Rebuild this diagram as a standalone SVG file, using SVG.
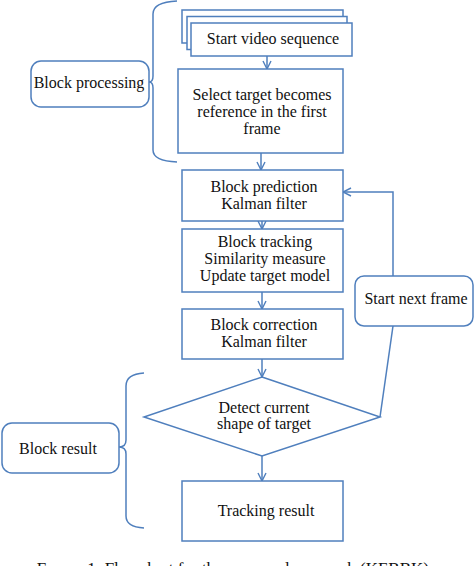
<svg xmlns="http://www.w3.org/2000/svg" width="474" height="566" viewBox="0 0 474 566">
<defs>
<style>
.b{fill:#fff;stroke:#4f7fbd;stroke-width:1.5}
.l{fill:none;stroke:#4f7fbd;stroke-width:1.5}
.t{font-family:"Liberation Serif","Times New Roman",serif;font-size:16px;fill:#111;text-anchor:middle}
</style>
<marker id="ah" viewBox="0 0 10 10" refX="9" refY="5" markerWidth="10" markerHeight="10" markerUnits="userSpaceOnUse" orient="auto">
<path d="M1,1 L9,5 L1,9" fill="none" stroke="#4f7fbd" stroke-width="1.4"/>
</marker>
</defs>
<rect width="474" height="566" fill="#fff"/>
<g id="connectors">
<line class="l" x1="267" y1="56" x2="267" y2="69" marker-end="url(#ah)"/>
<line class="l" x1="261" y1="153" x2="261" y2="170" marker-end="url(#ah)"/>
<line class="l" x1="262" y1="221" x2="262" y2="229" marker-end="url(#ah)"/>
<line class="l" x1="262" y1="292" x2="262" y2="309" marker-end="url(#ah)"/>
<line class="l" x1="262" y1="359" x2="262" y2="377" marker-end="url(#ah)"/>
<line class="l" x1="262" y1="456" x2="262" y2="481" marker-end="url(#ah)"/>
<polyline class="l" points="380,417 393,326"/>
<polyline class="l" points="393,276 393,192 343,192" marker-end="url(#ah)"/>
</g>
<g id="braces">
<path class="l" d="M177,1 Q153,2 153,14 L153,76 Q153,82 149,82 Q153,82 153,88 L153,150 Q153,161 177,162"/>
<path class="l" d="M144,373 Q126,374 126,386 L126,440 Q126,447 119,447 Q126,447 126,454 L126,516 Q126,527 144,528"/>
</g>
<g id="n-start">
<rect class="b" x="182" y="10" width="161" height="33"/>
<rect class="b" x="187" y="16.5" width="160" height="33"/>
<rect class="b" x="191" y="23" width="161" height="33"/>
<text class="t" x="273" y="44">Start video sequence</text>
</g>
<g id="n-select">
<rect class="b" x="178" y="69" width="165" height="84"/>
<text class="t" x="262" y="100">Select target becomes</text>
<text class="t" x="262" y="117">reference in the first</text>
<text class="t" x="262" y="134">frame</text>
</g>
<g id="n-predict">
<rect class="b" x="182" y="170" width="161" height="51"/>
<text class="t" x="264" y="192">Block prediction</text>
<text class="t" x="264" y="209">Kalman filter</text>
</g>
<g id="n-track">
<rect class="b" x="182" y="229" width="161" height="63"/>
<text class="t" x="265" y="247">Block tracking</text>
<text class="t" x="265" y="264">Similarity measure</text>
<text class="t" x="265" y="281">Update target model</text>
</g>
<g id="n-correct">
<rect class="b" x="182" y="309" width="161" height="50"/>
<text class="t" x="264" y="330">Block correction</text>
<text class="t" x="264" y="347">Kalman filter</text>
</g>
<g id="n-detect">
<polygon class="b" points="262,377 380,417 262,456 144,417"/>
<text class="t" x="264" y="413">Detect current</text>
<text class="t" x="264" y="429">shape of target</text>
</g>
<g id="n-result">
<rect class="b" x="182" y="481" width="161" height="60"/>
<text class="t" x="266" y="516">Tracking result</text>
</g>
<g id="n-next">
<rect class="b" x="355" y="276" width="118" height="50" rx="9"/>
<text class="t" x="416" y="304">Start next frame</text>
</g>
<g id="n-blockproc">
<rect class="b" x="31" y="61" width="118" height="46" rx="10"/>
<text class="t" x="89" y="88">Block processing</text>
</g>
<g id="n-blockres">
<rect class="b" x="2" y="423" width="117" height="50" rx="10"/>
<text class="t" x="58" y="454">Block result</text>
</g>
<text class="t" x="235" y="574" style="font-size:17px">F<tspan style="font-size:12px">IGURE</tspan> 1: Flowchart for the proposed approach (KEBBK).</text>
</svg>
